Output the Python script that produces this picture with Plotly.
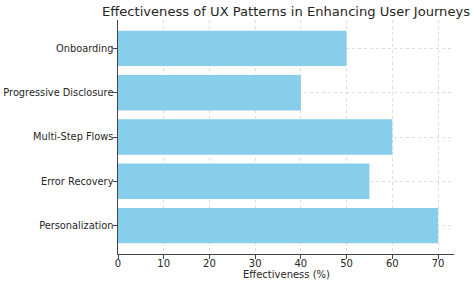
import plotly.graph_objects as go

categories = ["Personalization", "Error Recovery", "Multi-Step Flows", "Progressive Disclosure", "Onboarding"]
values = [70, 55, 60, 40, 50]
x_ticks = [0, 10, 20, 30, 40, 50, 60, 70]

fig = go.Figure()
fig.add_trace(go.Bar(
    x=values, y=categories, orientation="h",
    marker=dict(color="#87CEEB", line=dict(width=0)),
    width=0.8,
))
# helper trace so the overlaying axis (tick marks only) is drawn
fig.add_trace(go.Scatter(x=[0], y=[categories[0]], xaxis="x2", mode="none",
                         hoverinfo="skip", showlegend=False))

font_family = "DejaVu Sans"
fig.update_layout(
    width=474, height=285,
    margin=dict(l=118, r=20, t=20, b=31),
    paper_bgcolor="white", plot_bgcolor="white",
    font=dict(family=font_family, size=10, color="#262626"),
    title=dict(text="Effectiveness of UX Patterns in Enhancing User Journeys",
               x=286 / 474, xanchor="center", y=1 - 11 / 285, yanchor="middle",
               font=dict(size=13.1, color="#262626")),
    showlegend=False,
    bargap=0.2,
    annotations=[dict(text="Effectiveness (%)", xref="paper", yref="paper",
                      x=0.5, y=0, yshift=-20, xanchor="center", yanchor="middle",
                      showarrow=False, font=dict(size=10, color="#262626"))],
    xaxis=dict(
        range=[0, 73.5], tickvals=x_ticks, ticktext=[str(t) for t in x_ticks],
        showline=True, linecolor="#444", linewidth=1.2, ticks="",
        showgrid=True, gridcolor="#dcdcdc", griddash="dot", gridwidth=0.8,
        zeroline=False, layer="above traces", automargin=False,
        tickfont=dict(size=10),
    ),
    xaxis2=dict(
        overlaying="x", matches="x", side="bottom", anchor="y",
        tickvals=x_ticks, showticklabels=False, ticks="outside",
        ticklen=3.5, tickcolor="#444", tickwidth=1,
        showgrid=False, showline=False, zeroline=False, automargin=False,
    ),
    yaxis=dict(
        type="category", categoryorder="array", categoryarray=categories,
        range=[-0.64, 4.64],
        showline=True, linecolor="#444", linewidth=1.2,
        ticks="outside", ticklen=3.5, tickcolor="#444",
        showgrid=True, gridcolor="#dcdcdc", griddash="dot", gridwidth=0.8,
        zeroline=False, layer="above traces", automargin=False,
        ticklabelstandoff=-2,
        tickfont=dict(size=9.8),
    ),
)
fig.write_html("out.html")
